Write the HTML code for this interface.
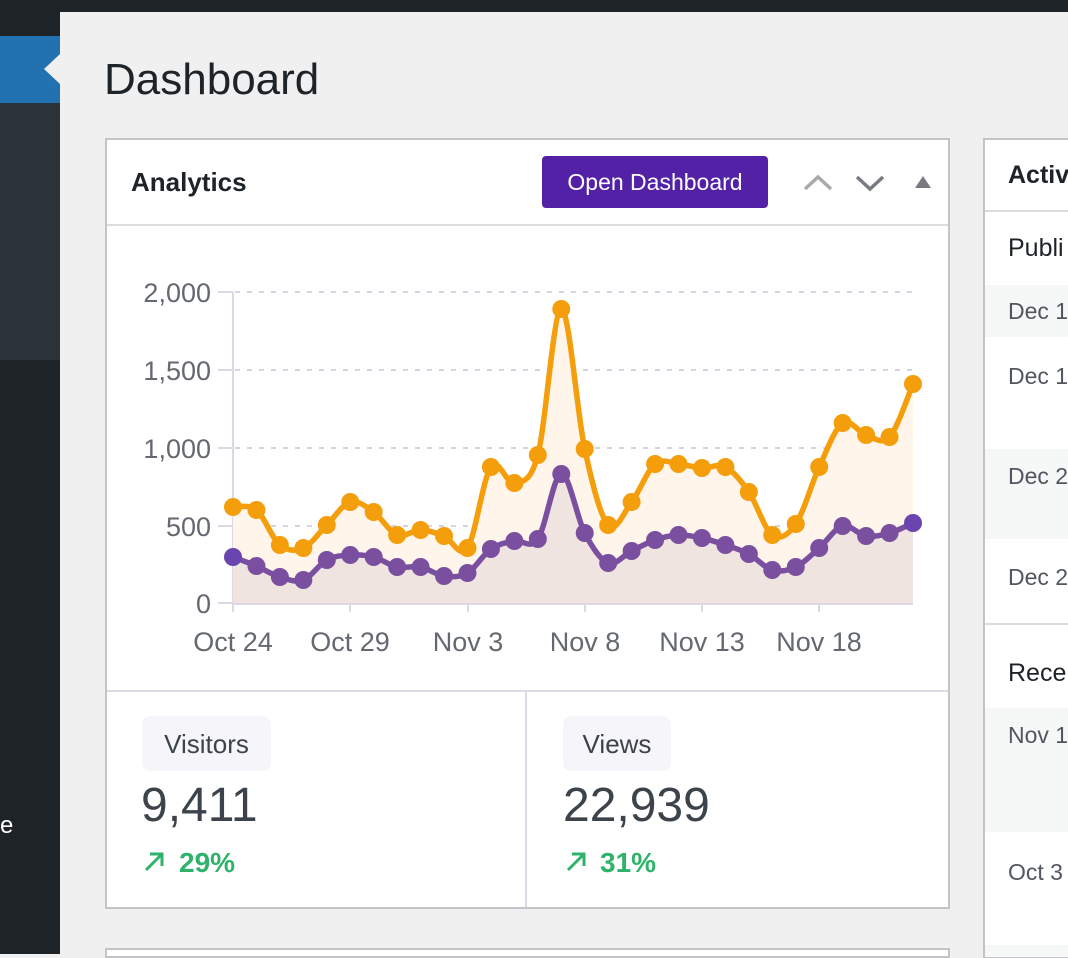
<!DOCTYPE html>
<html><head><meta charset="utf-8"><style>
*{margin:0;padding:0;box-sizing:border-box}
body{width:1068px;height:954px;overflow:hidden;background:#f0f0f1;font-family:"Liberation Sans",sans-serif;position:relative;color:#1d2327}
.a{position:absolute;white-space:nowrap}
</style></head><body>
<div class="a" style="left:0;top:0;width:1068px;height:12px;background:#1d2327"></div>
<div class="a" style="left:0;top:12px;width:60px;height:942px;background:#1d2327"></div>
<div class="a" style="left:0;top:36px;width:60px;height:67px;background:#2271b1"></div>
<div class="a" style="left:0;top:103px;width:60px;height:257px;background:#2c3338"></div>
<div class="a" style="left:44px;top:54px;width:0;height:0;border-top:15px solid transparent;border-bottom:15px solid transparent;border-right:16px solid #f0f0f1"></div>
<div class="a" style="left:0;top:812px;color:#fff;font-size:24px">e</div>
<div class="a" style="left:104px;top:55px;font-size:44px;color:#1d2327">Dashboard</div>

<div class="a" style="left:105px;top:138px;width:845px;height:771px;background:#fff;border:2px solid #c3c4c7"></div>
<div class="a" style="left:107px;top:224px;width:841px;height:2px;background:#dcdcde"></div>
<div class="a" style="left:131px;top:167px;font-size:26px;font-weight:bold">Analytics</div>
<div class="a" style="left:542px;top:156px;width:226px;height:52px;background:#5221a5;border-radius:4px;color:#fff;font-size:23px;line-height:52px;text-align:center">Open Dashboard</div>
<svg class="a" style="left:800px;top:168px" width="140" height="30">
<polyline points="5,21 18,9 31,21" fill="none" stroke="#a7aaad" stroke-width="3.5"/>
<polyline points="57,9 70,21 83,9" fill="none" stroke="#787c82" stroke-width="3.5"/>
<polygon points="115,20 123,8 131,20" fill="#787c82"/>
</svg>

<svg class="a" style="left:0;top:0" width="1068" height="690">
<g stroke="#d6d3e0" stroke-width="2" stroke-dasharray="5,7">
<line x1="235" y1="292" x2="913" y2="292"/><line x1="235" y1="370" x2="913" y2="370"/><line x1="235" y1="448" x2="913" y2="448"/><line x1="235" y1="526" x2="913" y2="526"/>
</g>
<g stroke="#dcd8e6" stroke-width="2">
<line x1="233" y1="292" x2="233" y2="612"/>
<line x1="218" y1="292" x2="233" y2="292"/><line x1="218" y1="370" x2="233" y2="370"/><line x1="218" y1="448" x2="233" y2="448"/><line x1="218" y1="526" x2="233" y2="526"/><line x1="218" y1="603" x2="233" y2="603"/>
<line x1="233" y1="604" x2="913" y2="604"/>
<line x1="350" y1="604" x2="350" y2="612"/><line x1="468" y1="604" x2="468" y2="612"/><line x1="585" y1="604" x2="585" y2="612"/><line x1="702" y1="604" x2="702" y2="612"/><line x1="819" y1="604" x2="819" y2="612"/>
</g>
<g font-size="27" fill="#646970" text-anchor="end">
<text x="211" y="302">2,000</text><text x="211" y="380">1,500</text><text x="211" y="458">1,000</text><text x="211" y="536">500</text><text x="211" y="613">0</text>
</g>
<g font-size="27" fill="#646970" text-anchor="middle">
<text x="233" y="651">Oct 24</text><text x="350" y="651">Oct 29</text><text x="468" y="651">Nov 3</text><text x="585" y="651">Nov 8</text><text x="702" y="651">Nov 13</text><text x="819" y="651">Nov 18</text>
</g>
<g id="series"></g>
</svg>
<script>
var o=[507,510,545,548,525,502,512,535,530,536,548,467,483,455,309,449,525,502,464,464,468,467,492,535,524,467,423,435,437,384];
var p=[557,566,577,580,560,555,557,567,567,576,573,549,541,539,474,533,563,551,540,535,538,545,554,570,567,548,526,536,533,523];
function X(i){return 233+i*680/29;}
function path(a){var d="M"+X(0)+","+a[0];for(var i=0;i<a.length-1;i++){var p0=a[Math.max(i-1,0)],p1=a[i],p2=a[i+1],p3=a[Math.min(i+2,a.length-1)];var x0=X(Math.max(i-1,0)),x1=X(i),x2=X(i+1),x3=X(Math.min(i+2,a.length-1));var t=6;d+=" C"+(x1+(x2-x0)/t)+","+(p1+(p2-p0)/t)+" "+(x2-(x3-x1)/t)+","+(p2-(p3-p1)/t)+" "+x2+","+p2;}return d;}
var g=document.getElementById("series"),h="";
var po=path(o),pp=path(p);
h+='<path d="'+po+' L913,603 L233,603Z" fill="#fff5ea"/>';
h+='<path d="'+pp+' L913,603 L233,603Z" fill="#f0e4e0"/>';
h+='<path d="'+po+'" fill="none" stroke="#f59e0b" stroke-width="5.5"/>';
h+='<path d="'+pp+'" fill="none" stroke="#7b4f9f" stroke-width="5.5"/>';
for(var i=0;i<30;i++){h+='<circle cx="'+X(i)+'" cy="'+o[i]+'" r="9" fill="#f59e0b"/>';}
for(var i=0;i<30;i++){h+='<circle cx="'+X(i)+'" cy="'+p[i]+'" r="9" fill="'+(i==0||i==29?'#6a45b0':'#7b4f9f')+'"/>';}
g.innerHTML=h;
</script>

<div class="a" style="left:107px;top:690px;width:841px;height:2px;background:#dcdae6"></div>
<div class="a" style="left:525px;top:692px;width:2px;height:215px;background:#dcdae6"></div>
<div class="a" style="left:142px;top:716px;width:129px;height:55px;background:#f6f5fa;border-radius:8px;font-size:26px;line-height:57px;text-align:center;color:#3c434a">Visitors</div>
<div class="a" style="left:563px;top:716px;width:108px;height:55px;background:#f6f5fa;border-radius:8px;font-size:26px;line-height:57px;text-align:center;color:#3c434a">Views</div>
<div class="a" style="left:141px;top:778px;font-size:48px;color:#3c434a">9,411</div>
<div class="a" style="left:563px;top:778px;font-size:48px;color:#3c434a">22,939</div>
<svg class="a" style="left:143px;top:850px" width="24" height="24"><path d="M3,20 L19,4 M7,4 L19,4 L19,16" fill="none" stroke="#2fb36b" stroke-width="3"/></svg>
<div class="a" style="left:179px;top:847px;font-size:28px;font-weight:bold;color:#2fb36b">29%</div>
<svg class="a" style="left:565px;top:850px" width="24" height="24"><path d="M3,20 L19,4 M7,4 L19,4 L19,16" fill="none" stroke="#2fb36b" stroke-width="3"/></svg>
<div class="a" style="left:600px;top:847px;font-size:28px;font-weight:bold;color:#2fb36b">31%</div>

<div class="a" style="left:105px;top:948px;width:845px;height:10px;background:#fff;border:2px solid #c3c4c7"></div>

<div class="a" style="left:983px;top:138px;width:100px;height:820px;background:#fff;border:2px solid #c3c4c7"></div>
<div class="a" style="left:985px;top:210px;width:90px;height:2px;background:#dcdcde"></div>
<div class="a" style="left:1008px;top:161px;font-size:25px;font-weight:bold">Activ</div>
<div class="a" style="left:1008px;top:234px;font-size:25px">Publi</div>
<div class="a" style="left:985px;top:285px;width:90px;height:52px;background:#f6f7f7"></div>
<div class="a" style="left:1008px;top:298px;font-size:23px;color:#50575e">Dec 1</div>
<div class="a" style="left:1008px;top:363px;font-size:23px;color:#50575e">Dec 1</div>
<div class="a" style="left:985px;top:449px;width:90px;height:90px;background:#f6f7f7"></div>
<div class="a" style="left:1008px;top:463px;font-size:23px;color:#50575e">Dec 2</div>
<div class="a" style="left:1008px;top:564px;font-size:23px;color:#50575e">Dec 2</div>
<div class="a" style="left:985px;top:623px;width:90px;height:2px;background:#dcdcde"></div>
<div class="a" style="left:1008px;top:659px;font-size:25px">Rece</div>
<div class="a" style="left:985px;top:708px;width:90px;height:124px;background:#f6f7f7"></div>
<div class="a" style="left:1008px;top:722px;font-size:23px;color:#50575e">Nov 1</div>
<div class="a" style="left:1008px;top:859px;font-size:23px;color:#50575e">Oct 3</div>
<div class="a" style="left:985px;top:945px;width:90px;height:12px;background:#f6f7f7"></div>
</body></html>
